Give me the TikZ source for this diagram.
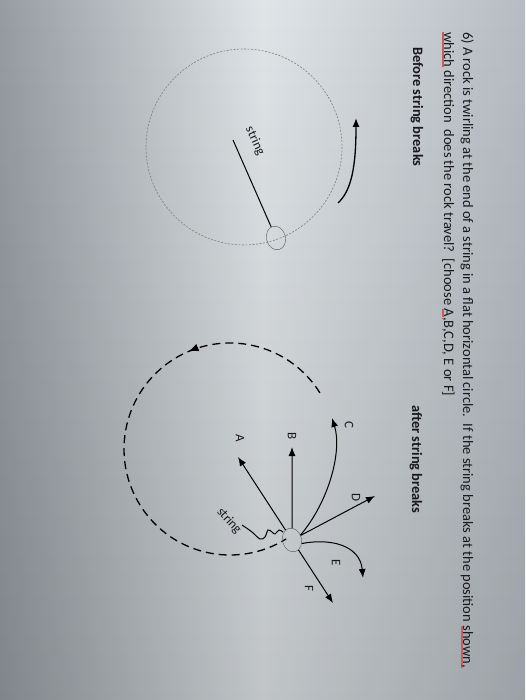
\documentclass[tikz,border=0pt]{standalone}
\usepackage{fontspec}
\setmainfont{Carlito}
\usetikzlibrary{arrows.meta,shapes.geometric,decorations.markings,fadings}
\definecolor{bgleft}{RGB}{150,156,162}
\definecolor{bgmid}{RGB}{224,229,232}
\definecolor{bgright}{RGB}{182,188,194}
\definecolor{markred}{RGB}{195,95,95}
\definecolor{ink}{RGB}{25,25,28}
\newcommand\spellmark[1]{\setbox0\hbox{#1}\rlap{\color{markred}\rule[-2.5pt]{\wd0}{2pt}}\box0\relax}

\begin{document}
\begin{tikzpicture}[x=1pt,y=-1pt,
  rock/.style={draw=black!65,ellipse,minimum width=19pt,minimum height=24pt,inner sep=0pt,rotate=15},
  optlabel/.style={rotate=-90,text=ink,font=\fontsize{13}{15}\selectfont},
  headline/.style={rotate=-90,anchor=base west,inner sep=0pt,text=ink,font=\fontsize{14.5}{17}\selectfont},
  >={Latex[length=9pt,width=7pt]}]
% Background
\shade[left color=bgleft,right color=bgright,middle color=bgmid] (0,0) rectangle (525,700);
\fill[black,opacity=0.14,path fading=north] (0,0) rectangle (525,700);
\useasboundingbox (0,0) rectangle (525,700);
% Question
\node[headline] (line1) at (463,32)
  {6) A rock is twirling at the end of a string in a flat horizontal circle.\ \ If the string breaks at the position \spellmark{shown,}};
\node[headline] (line2) at (444,32)
  {\spellmark{which} direction\ \ does the rock travel?\ \ [choose \spellmark{A},B,C,D, E or F]};
\node[headline,font=\bfseries\fontsize{14.4}{17}\selectfont] (before) at (413,47) {Before string breaks};
\node[headline,font=\bfseries\fontsize{14.4}{17}\selectfont] (after) at (412,405) {after string breaks};

% Before string breaks
\draw[gray,line width=0.6pt,dash pattern=on 2pt off 1.5pt] (244,147) circle[radius=98];
\node[rock] (rock1) at (276,238) {};
\coordinate (pivot1) at (233,140);
\draw[line width=1pt] (pivot1) -- (rock1);
\node[optlabel,rotate=25] (str1) at (255,141) {string};
\coordinate (turn1) at (338,203);
\draw[->,line width=1.3pt] (turn1) .. controls (352,190) and (356,165) .. (356,118);

% After string breaks
\draw[line width=1.3pt,dash pattern=on 8pt off 5pt,
  postaction={decorate},decoration={markings,mark=at position 0.3 with {\arrow{Latex[length=10pt,width=8pt]}}}]
  (230,449) ++(-32:106) arc[start angle=-32,end angle=-302,radius=106];
\node[rock] (rock2) at (292,540) {};
\draw[line width=1pt] plot[smooth,tension=0.6] coordinates
  {(242,525) (252,532) (260,539) (265,537) (268,530) (272,532) (275,534) (279,530) (283,532)};
\node[optlabel,rotate=42] (str2) at (229,521) {string};
% Choices
\draw[->,line width=1pt] (rock2) -- (238,457);
\draw[->,line width=1pt] (rock2) -- (292,447);
\draw[->,line width=1pt] (rock2.15) .. controls (330,500) and (342,450) .. (332,418);
\draw[->,line width=1pt] (rock2) -- (375,496);
\draw[->,line width=1pt] (rock2.-35) .. controls (330,538) and (360,545) .. (363,578);
\draw[->,line width=1pt] (rock2) -- (333,603);
\node[optlabel] (la) at (240,438) {A};
\node[optlabel] (lb) at (292,436) {B};
\node[optlabel] (lc) at (349,425) {C};
\node[optlabel] (ld) at (356,497) {D};
\node[optlabel] (le) at (336,563) {E};
\node[optlabel] (lf) at (309,588) {F};
\end{tikzpicture}
\end{document}
